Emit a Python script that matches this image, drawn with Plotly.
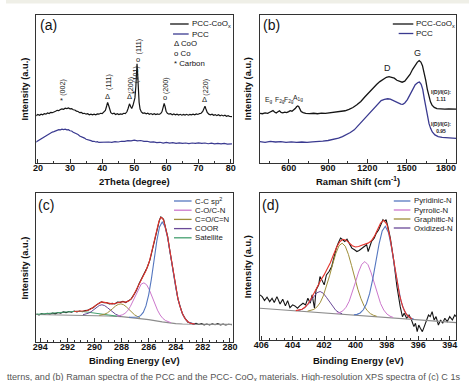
import plotly.graph_objects as go

W, H = 474, 381
def PX(x): return x / W
def PY(y): return 1 - y / H

# ---------------- DATA ----------------
# (a) XRD  (2theta in degree, intensity on a 0-100 frame scale)
XRD_PCC_COOX = [(18.4,31.8),(19.0,32.6),(19.5,32.0),(20.0,32.8),(20.5,32.3),(21.0,33.0),(21.5,32.6),(22.0,33.4),(22.5,33.0),(23.0,33.8),(23.5,33.4),(24.0,34.2),(24.5,34.0),(25.0,34.8),(25.5,35.0),(26.0,35.6),(26.5,35.4),(27.0,36.2),(27.5,36.6),(28.0,36.3),(28.5,37.0),(29.0,36.8),(29.5,37.2),(30.0,36.6),(30.5,36.8),(31.0,36.0),(31.5,35.8),(32.0,35.0),(32.5,34.8),(33.0,34.0),(33.5,34.2),(34.0,33.4),(34.5,33.6),(35.0,33.0),(35.5,33.3),(36.0,32.6),(36.5,33.0),(37.0,32.5),(37.5,33.0),(38.0,32.6),(38.5,33.2),(39.0,33.0),(39.5,33.6),(40.0,33.4),(40.5,34.2),(41.0,35.6),(41.4,38.5),(41.7,41.0),(42.0,39.0),(42.3,36.0),(42.7,34.0),(43.2,33.2),(43.7,33.6),(44.2,32.8),(44.7,33.3),(45.2,32.7),(45.7,33.2),(46.2,32.9),(46.7,33.6),(47.2,33.4),(47.7,34.6),(48.1,37.0),(48.5,40.0),(48.9,38.0),(49.2,36.8),(49.6,39.0),(49.9,41.0),(50.2,44.0),(50.5,52.0),(50.7,62.0),(50.85,67.0),(51.0,62.0),(51.2,50.0),(51.5,41.0),(51.8,36.5),(52.2,34.5),(52.7,33.6),(53.2,33.9),(53.7,33.2),(54.2,33.6),(54.7,32.9),(55.2,33.4),(55.7,32.8),(56.2,33.3),(56.7,32.7),(57.2,33.2),(57.7,32.8),(58.2,33.4),(58.6,34.6),(59.0,37.5),(59.3,40.2),(59.6,38.0),(59.9,35.0),(60.3,33.6),(60.8,33.0),(61.3,33.4),(61.8,32.6),(62.3,33.1),(62.8,32.5),(63.3,33.0),(63.8,32.4),(64.3,32.9),(64.8,32.3),(65.3,32.8),(65.8,32.4),(66.3,32.9),(66.8,32.3),(67.3,32.8),(67.8,32.5),(68.3,33.0),(68.8,32.6),(69.3,33.2),(69.8,32.8),(70.3,33.4),(70.8,33.6),(71.3,34.8),(71.7,36.8),(72.0,38.4),(72.3,36.5),(72.7,34.2),(73.2,33.0),(73.7,32.6),(74.2,33.0),(74.7,32.2),(75.2,32.7),(75.7,32.0),(76.2,32.6),(76.7,31.9),(77.2,32.4),(77.7,31.8),(78.2,32.3),(78.7,31.6),(79.2,32.0),(79.7,31.4),(80.4,31.3)]
XRD_PCC = [(18.4,12.8),(19.0,13.6),(19.5,14.2),(20.0,14.8),(20.5,15.6),(21.0,16.0),(21.5,17.0),(22.0,17.6),(22.5,18.6),(23.0,19.0),(23.5,19.8),(24.0,20.2),(24.5,20.9),(25.0,21.2),(25.5,21.8),(26.0,21.9),(26.5,22.5),(27.0,22.4),(27.5,22.9),(28.0,22.6),(28.5,22.9),(29.0,22.4),(29.5,22.5),(30.0,21.8),(30.5,21.6),(31.0,20.8),(31.5,20.4),(32.0,19.6),(32.5,19.2),(33.0,18.3),(33.5,17.9),(34.0,17.1),(34.5,16.8),(35.0,16.0),(35.5,15.8),(36.0,15.2),(36.5,15.1),(37.0,14.6),(37.5,14.7),(38.0,14.2),(38.5,14.4),(39.0,13.9),(40.0,14.1),(41.0,13.8),(42.0,14.2),(43.0,13.9),(44.0,14.4),(45.0,14.2),(46.0,14.7),(47.0,14.6),(48.0,15.1),(49.0,14.9),(50.0,15.4),(51.0,15.0),(52.0,15.2),(53.0,14.6),(54.0,14.7),(55.0,14.1),(56.0,14.3),(57.0,13.8),(58.0,14.0),(59.0,13.5),(60.0,13.9),(61.0,13.4),(62.0,13.7),(63.0,13.3),(64.0,13.6),(65.0,13.2),(66.0,13.5),(67.0,13.1),(68.0,13.5),(69.0,13.2),(70.0,13.6),(71.0,13.2),(72.0,13.5),(73.0,13.0),(74.0,13.4),(75.0,12.9),(76.0,13.3),(77.0,12.9),(78.0,13.2),(79.0,12.8),(80.4,12.9)]
XRD_TICKS = [20, 30, 40, 50, 60, 70, 80]
# peak marks: (2theta, symbol y, symbol, hkl, hkl y)
XRD_PEAKS = [(27.3, 42.4, "*", "(002)", 51.0), (41.7, 44.6, "Δ", "(111)", 54.5),
             (48.5, 44.6, "Δ", "(200)", 52.5), (49.85, 47.0, "*", "(101)", 60.0),
             (51.05, 70.0, "o", "(111)", 78.5), (59.5, 44.4, "o", "(200)", 52.5),
             (72.0, 42.6, "Δ", "(220)", 51.5)]
XRD_SERIES = ["PCC-CoO<sub>x</sub>", "PCC"]
XRD_KEYS = ["Δ CoO", "o Co", "* Carbon"]

# (b) Raman (Raman shift in cm-1, intensity 0-100 frame scale)
RAMAN_PCC_COOX = [(381,33.6),(400,33.3),(420,33.9),(440,33.6),(455,34.3),(470,35.0),(480,35.4),(492,34.4),(505,33.8),(518,34.6),(530,35.2),(542,34.2),(555,33.9),(570,34.3),(585,34.0),(600,34.7),(612,35.4),(625,35.0),(638,35.8),(650,36.8),(660,38.0),(668,38.5),(676,38.2),(685,36.6),(695,34.8),(710,34.0),(730,33.5),(760,33.3),(790,33.6),(820,33.3),(850,33.7),(880,33.5),(910,33.9),(940,34.0),(970,34.2),(1000,34.6),(1030,35.3),(1060,36.3),(1090,37.5),(1120,39.3),(1150,41.6),(1180,44.6),(1210,47.6),(1240,50.2),(1270,53.0),(1295,55.0),(1320,56.6),(1345,57.9),(1365,58.4),(1385,58.1),(1405,57.3),(1425,55.9),(1445,55.0),(1465,54.6),(1485,55.3),(1505,57.2),(1525,59.8),(1545,63.3),(1565,66.3),(1580,68.0),(1595,69.2),(1608,68.2),(1620,65.8),(1632,61.5),(1645,55.8),(1657,49.8),(1669,44.6),(1681,41.3),(1693,39.1),(1710,37.6),(1730,36.8),(1760,36.5),(1790,36.4),(1820,36.5),(1850,36.3),(1878,36.4)]
RAMAN_PCC = [(381,14.5),(420,14.0),(460,14.6),(500,14.2),(540,14.5),(580,14.0),(620,14.3),(660,13.9),(700,14.2),(740,13.9),(780,14.3),(820,14.4),(860,14.8),(900,15.2),(940,15.9),(980,16.8),(1010,17.8),(1040,19.0),(1070,20.6),(1100,22.4),(1130,25.3),(1160,28.2),(1190,31.4),(1220,34.6),(1250,37.6),(1280,40.5),(1305,42.2),(1330,43.0),(1355,43.4),(1375,43.2),(1395,42.4),(1415,41.5),(1435,40.4),(1455,39.8),(1470,39.6),(1485,40.6),(1505,42.8),(1525,46.5),(1545,50.3),(1565,52.9),(1585,54.4),(1597,54.7),(1610,53.2),(1622,49.8),(1634,43.5),(1646,37.5),(1658,31.5),(1670,26.6),(1682,23.4),(1695,21.0),(1715,19.0),(1740,17.9),(1770,17.3),(1800,17.0),(1840,16.8),(1878,16.6)]
RAMAN_TICKS = [600, 900, 1200, 1500, 1800]
RAMAN_BANDS = [(452, 42.4, "E<sub>g</sub>"), (530, 42.4, "F<sub>2g</sub>"), (606, 42.8, "F<sub>2g</sub>"),
               (670, 44.2, "A<sub>1g</sub>"), (1355, 64.0, "D"), (1580, 74.0, "G")]
RAMAN_RATIOS = [(1765, 45.5, "I(D)/I(G):", "1.11"), (1765, 24.0, "I(D)/I(G):", "0.95")]

# (c) XPS C 1s (binding energy eV, intensity 0-100 frame scale)
C1S_RAW = [(294.3,18.8),(294.1,18.2),(293.9,19.0),(293.7,18.5),(293.5,19.2),(293.3,18.7),(293.1,19.4),(292.9,18.9),(292.7,19.8),(292.5,19.3),(292.3,20.2),(292.1,19.7),(291.9,20.5),(291.7,20.0),(291.5,20.8),(291.3,20.2),(291.1,20.8),(290.9,20.3),(290.7,21.1),(290.5,21.2),(290.3,22.3),(290.1,23.0),(289.9,24.6),(289.7,25.6),(289.5,27.0),(289.3,26.4),(289.1,26.4),(288.9,25.5),(288.7,25.9),(288.5,25.6),(288.3,26.8),(288.1,26.6),(287.9,27.3),(287.7,26.5),(287.5,27.8),(287.3,28.8),(287.1,31.6),(286.9,34.8),(286.7,39.2),(286.5,42.6),(286.3,46.0),(286.1,50.2),(285.9,55.3),(285.7,63.6),(285.5,71.4),(285.35,77.0),(285.2,82.0),(285.1,83.9),(285.0,83.0),(284.9,82.3),(284.75,76.6),(284.6,70.9),(284.45,61.8),(284.3,53.9),(284.15,44.1),(284.0,36.9),(283.85,29.3),(283.7,24.6),(283.5,18.7),(283.3,15.8),(283.1,13.3),(282.9,12.8),(282.7,12.0),(282.5,12.5),(282.3,11.8),(282.1,12.3),(281.9,11.5),(281.7,12.1),(281.5,11.4),(281.3,12.2),(281.1,11.6),(280.9,12.3),(280.7,11.5),(280.5,12.0),(280.3,11.4),(280.1,11.9),(279.85,11.6)]
C1S_FIT = [(291.5,20.5),(291.0,20.55),(290.6,21.0),(290.3,22.0),(290.0,24.0),(289.7,25.9),(289.45,26.9),(289.2,26.5),(288.95,25.9),(288.7,25.6),(288.45,26.0),(288.2,26.65),(287.95,27.0),(287.7,26.8),(287.45,27.6),(287.2,29.85),(286.95,34.0),(286.7,38.85),(286.45,43.45),(286.2,47.8),(285.95,54.0),(285.7,63.3),(285.45,74.0),(285.25,80.7),(285.1,83.65),(285.0,83.3),(284.9,81.8),(284.75,77.0),(284.6,70.5),(284.45,62.3),(284.3,53.5),(284.15,44.5),(284.0,36.5),(283.85,29.7),(283.7,24.2),(283.5,19.0),(283.3,15.5),(283.1,13.6),(282.9,12.6),(282.6,12.0)]
C1S_BG = [(294.3,18.5),(293.0,18.35),(292.0,18.2),(291.0,18.0),(290.0,17.8),(289.0,17.5),(288.0,17.0),(287.0,16.2),(286.0,15.0),(285.0,13.5),(284.5,12.8),(284.0,12.3),(283.5,12.05),(283.0,11.9),(281.0,11.8),(279.85,11.8)]
C1S_CC = [(287.45,16.6),(287.0,16.5),(286.8,16.8),(286.6,17.7),(286.4,19.9),(286.2,24.2),(286.0,31.7),(285.8,42.2),(285.6,55.1),(285.4,67.7),(285.2,77.2),(285.0,80.5),(284.8,77.6),(284.6,69.9),(284.4,59.2),(284.2,47.4),(284.0,36.5),(283.8,27.6),(283.6,21.2),(283.4,16.9),(283.2,14.4),(283.0,13.0),(282.6,12.0)]
C1S_CO = [(288.35,17.3),(288.15,17.6),(287.95,18.2),(287.75,19.2),(287.55,21.0),(287.35,23.9),(287.15,27.7),(286.95,32.0),(286.75,36.0),(286.55,38.9),(286.35,39.7),(286.15,38.4),(285.95,35.0),(285.75,30.5),(285.55,25.7),(285.35,21.4),(285.15,18.1),(284.95,15.8),(284.75,14.4),(284.55,13.45),(284.35,12.9)]
C1S_CDO = [(289.65,17.9),(289.45,18.2),(289.25,18.7),(289.05,19.5),(288.85,20.8),(288.65,22.5),(288.45,24.1),(288.25,25.2),(288.05,25.6),(287.85,25.0),(287.65,23.6),(287.45,21.8),(287.25,19.9),(287.05,18.3),(286.85,17.2),(286.65,16.4)]
C1S_COOR = [(290.85,18.3),(290.65,18.6),(290.45,19.3),(290.25,20.3),(290.05,21.8),(289.85,23.3),(289.65,24.5),(289.45,25.0),(289.25,24.4),(289.05,23.1),(288.85,21.5),(288.65,19.9),(288.45,18.7),(288.25,17.9),(288.05,17.4)]
C1S_SAT = [(294.3,18.6),(293.8,18.8),(293.3,19.1),(292.8,19.6),(292.3,20.0),(291.8,20.4),(291.3,20.6),(290.8,20.4),(290.3,19.8),(289.8,19.3),(289.3,18.7),(288.8,17.9),(288.3,17.3)]
C1S_NAMES = ["C-C sp<sup>2</sup>", "C-O/C-N", "C=O/C=N", "COOR", "Satellite"]
C1S_TICKS = [294, 292, 290, 288, 286, 284, 282, 280]

# (d) XPS N 1s
N1S_RAW = [(406.08,30.7),(405.94,29.5),(405.79,26.8),(405.63,29.1),(405.46,26.1),(405.31,28.4),(405.17,25.5),(405.0,29.5),(404.8,24.5),(404.63,27.7),(404.46,23.2),(404.32,26.8),(404.17,22.0),(404.0,23.9),(403.86,23.2),(403.69,21.6),(403.55,23.2),(403.34,25.0),(403.18,23.9),(403.03,28.4),(402.88,25.0),(402.76,30.7),(402.61,21.6),(402.51,34.1),(402.34,37.5),(402.26,43.2),(402.14,40.9),(401.99,37.5),(401.85,44.3),(401.68,46.6),(401.51,50.0),(401.37,56.8),(401.22,62.5),(401.10,65.9),(400.95,69.3),(400.81,68.2),(400.68,67.0),(400.54,68.6),(400.39,65.9),(400.23,62.5),(400.06,61.4),(399.91,60.2),(399.77,60.9),(399.60,62.5),(399.44,63.6),(399.29,64.8),(399.19,60.2),(399.08,64.8),(398.98,67.0),(398.81,69.3),(398.67,72.7),(398.52,75.0),(398.36,78.4),(398.25,81.8),(398.15,80.7),(398.05,81.8),(397.94,77.3),(397.78,69.3),(397.57,54.5),(397.36,36.4),(397.15,22.7),(397.01,15.9),(396.90,18.2),(396.74,14.8),(396.59,17.0),(396.45,14.1),(396.28,9.1),(396.18,11.4),(396.07,5.7),(395.97,10.2),(395.87,8.0),(395.74,5.7),(395.62,9.1),(395.49,13.6),(395.35,17.0),(395.24,15.9),(395.12,19.3),(394.99,13.6),(394.87,15.9),(394.72,10.2),(394.58,13.6),(394.45,11.4),(394.31,14.8),(394.16,12.5),(394.0,15.9),(393.83,13.6),(393.68,17.0),(393.58,15.9)]
N1S_FIT = [(403.8,20.0),(403.6,20.25),(403.4,20.95),(403.2,22.43),(403.0,24.98),(402.8,28.54),(402.6,32.77),(402.4,37.0),(402.2,40.84),(402.0,44.3),(401.8,48.05),(401.6,52.6),(401.4,57.97),(401.2,63.1),(401.0,66.87),(400.8,68.5),(400.6,67.9),(400.4,65.95),(400.2,64.1),(400.0,63.3),(399.8,63.6),(399.6,64.5),(399.4,65.3),(399.2,65.9),(399.0,67.35),(398.8,70.5),(398.6,75.0),(398.4,79.5),(398.2,81.5),(398.0,78.7),(397.8,69.56),(397.6,56.35),(397.4,42.54),(397.2,30.84),(397.0,22.88),(396.8,18.13),(396.6,15.67),(396.4,14.5)]
N1S_BG = [(406.08,21.6),(393.58,11.8)]
N1S_PYRIDINIC = [(400.1,17.15),(399.9,17.45),(399.7,18.4),(399.5,20.55),(399.3,24.7),(399.1,31.5),(398.9,41.45),(398.7,53.4),(398.5,65.25),(398.3,74.1),(398.1,77.35),(397.9,73.2),(397.7,62.65),(397.5,49.1),(397.3,36.2),(397.1,26.35),(396.9,20.2),(396.7,16.65),(396.5,15.0),(396.3,14.2)]
N1S_PYRROLIC = [(401.2,18.1),(401.0,18.7),(400.8,19.85),(400.6,22.3),(400.4,26.35),(400.2,32.2),(400.0,39.3),(399.8,46.25),(399.6,51.5),(399.4,53.35),(399.2,51.2),(399.0,45.65),(398.8,38.4),(398.6,30.9),(398.4,24.75),(398.2,20.4),(398.0,17.7),(397.8,16.2),(397.6,15.35)]
N1S_GRAPHITIC = [(403.05,19.6),(402.85,19.95),(402.65,20.8),(402.45,22.5),(402.25,25.35),(402.05,30.0),(401.85,36.15),(401.65,43.6),(401.45,51.6),(401.25,58.85),(401.05,64.1),(400.85,65.85),(400.65,63.8),(400.45,58.25),(400.25,50.65),(400.05,42.3),(399.85,34.55),(399.65,28.1),(399.45,23.15),(399.25,20.0),(399.05,17.95),(398.85,16.8),(398.65,16.15)]
N1S_OXIDIZED = [(403.65,20.1),(403.45,20.65),(403.25,21.8),(403.05,23.8),(402.85,26.75),(402.65,29.7),(402.45,32.15),(402.25,33.0),(402.05,31.8),(401.85,29.05),(401.65,25.8),(401.45,22.5),(401.25,20.15),(401.05,18.7),(400.85,17.85)]
N1S_NAMES = ["Pyridinic-N", "Pyrrolic-N", "Graphitic-N", "Oxidized-N"]
N1S_TICKS = [406, 404, 402, 400, 398, 396, 394]

CAPTION = ("tterns, and (b) Raman spectra of the PCC and the PCC- CoO<sub>x</sub> materials. "
           "High-resolution XPS spectra of (c) C 1s")

# ---------------- STYLE ----------------
FONT = "Liberation Sans, Arial, sans-serif"
BLACK = "#151515"
PCC_BLUE = "#3a3a90"
C_BLUE, C_PINK, C_OLIVE, C_PURPLE, C_GREEN = "#5577c0", "#cc77cc", "#9f8f3a", "#6a4a98", "#45a070"
C_RED, C_GRAY = "#e3342c", "#8c8c8c"

fig = go.Figure()

def add(pairs, ax, color, width=1.1):
    xs = [p[0] for p in pairs]
    ys = [p[1] for p in pairs]
    fig.add_trace(go.Scatter(x=xs, y=ys, mode="lines", xaxis=ax[0], yaxis=ax[1],
                             line=dict(color=color, width=width), showlegend=False,
                             hoverinfo="skip"))

A, B, C, D = ("x", "y"), ("x2", "y2"), ("x3", "y3"), ("x4", "y4")
add(XRD_PCC_COOX, A, BLACK, 1.2)
add(XRD_PCC, A, PCC_BLUE, 1.2)
add(RAMAN_PCC_COOX, B, BLACK, 1.3)
add(RAMAN_PCC, B, PCC_BLUE, 1.3)
add(C1S_RAW, C, BLACK, 1.1)
add(C1S_BG, C, C_GRAY, 1.1)
add(C1S_SAT, C, C_GREEN, 1.0)
add(C1S_COOR, C, C_PURPLE, 1.0)
add(C1S_CDO, C, C_OLIVE, 1.0)
add(C1S_CO, C, C_PINK, 1.0)
add(C1S_CC, C, C_BLUE, 1.1)
add(C1S_FIT, C, C_RED, 1.1)
add(N1S_RAW, D, BLACK, 1.1)
add(N1S_BG, D, C_GRAY, 1.1)
add(N1S_OXIDIZED, D, C_PURPLE, 1.0)
add(N1S_GRAPHITIC, D, C_OLIVE, 1.0)
add(N1S_PYRROLIC, D, C_PINK, 1.0)
add(N1S_PYRIDINIC, D, C_BLUE, 1.1)
add(N1S_FIT, D, C_RED, 1.1)

# axes
XL, XR, XL2, XR2 = 31, 232, 260, 461
TOP1, BOT1, TOP2, BOT2 = 15, 163, 193, 342

def xax(dom, rng, ticks, minor, anchor):
    return dict(domain=[PX(dom[0]), PX(dom[1])], range=rng, anchor=anchor,
                tickmode="array", tickvals=ticks, ticktext=[str(t) for t in ticks],
                showline=True, linecolor="#333", linewidth=1, mirror=True,
                ticks="inside", ticklen=4, tickwidth=1, tickcolor="#333",
                minor=dict(dtick=minor, ticks="inside", ticklen=2, tickcolor="#333"),
                showgrid=False, zeroline=False, ticklabelstandoff=-4,
                tickfont=dict(family=FONT, size=9, color="#111", weight="bold"))

def yax(dom, anchor):
    return dict(domain=[PY(dom[1]), PY(dom[0])], range=[0, 100], anchor=anchor,
                showline=True, linecolor="#333", linewidth=1, mirror=True,
                ticks="", showticklabels=False, showgrid=False, zeroline=False)

layout = dict(
    width=W, height=H, margin=dict(l=0, r=0, t=0, b=0),
    paper_bgcolor="white", plot_bgcolor="white", showlegend=False,
    xaxis=xax((XL, XR), [19.5, 80.6], XRD_TICKS, 5, "y"),
    yaxis=yax((TOP1, BOT1), "x"),
    xaxis2=xax((XL2, XR2), [381, 1878], RAMAN_TICKS, 150, "y2"),
    yaxis2=yax((TOP1, BOT1), "x2"),
    xaxis3=xax((XL, XR), [294.3, 279.8], C1S_TICKS, 0.5, "y3"),
    yaxis3=yax((TOP2, BOT2), "x3"),
    xaxis4=xax((XL2, XR2), [406.08, 393.58], N1S_TICKS, 0.5, "y4"),
    yaxis4=yax((TOP2, BOT2 - 2), "x4"),
)
fig.update_layout(**layout)

ann = []
shapes = []
def text(x, y, t, size=10, bold=False, angle=0, xanchor="center", color="#111", xref="paper", yref="paper"):
    if xref == "paper":
        x = PX(x)
    if yref == "paper":
        y = PY(y)
    ann.append(dict(x=x, y=y, xref=xref, yref=yref, text=("<b>%s</b>" % t) if bold else t,
                    showarrow=False, textangle=angle, xanchor=xanchor, yanchor="middle",
                    font=dict(family=FONT, size=size, color=color)))

def seg(x0, x1, y, color):
    shapes.append(dict(type="line", xref="paper", yref="paper", x0=PX(x0), x1=PX(x1),
                       y0=PY(y), y1=PY(y), line=dict(color=color, width=1.3)))

# top page strip
shapes.append(dict(type="rect", xref="paper", yref="paper", x0=0, x1=1, y0=PY(3.5), y1=1,
                   fillcolor="#efefe7", line=dict(width=0)))

# axis titles
for cx, cy, t in [(131.5, 181, "2Theta (degree)"), (360.5, 181, "Raman Shift (cm<sup>-1</sup>)"),
                  (131.5, 360, "Binding Energy (eV)"), (360.5, 360, "Binding Energy (eV)")]:
    text(cx, cy, t, size=9.5, bold=True)
for cx, cy in [(19, 89), (248, 89), (19, 268), (248, 267)]:
    text(cx, cy, "Intensity (a.u.)", size=9.3, bold=True, angle=-90)

# panel letters
for cx, cy, t in [(43, 25, "(a)"), (272, 25, "(b)"), (41, 205, "(c)"), (271, 205, "(d)")]:
    text(cx, cy, t, size=14)

# (a) peaks
for x, ys, sym, hkl, yl in XRD_PEAKS:
    text(x, ys, sym, size=7.5, xref="x", yref="y", color="#222")
    text(x + 0.3, yl, hkl, size=7.2, angle=-90, xref="x", yref="y", color="#222")

# (a) legend
seg(168, 187, 24, BLACK); text(188, 24, XRD_SERIES[0], size=8, xanchor="left")
seg(171, 187, 34, PCC_BLUE); text(188, 34, XRD_SERIES[1], size=8, xanchor="left")
for i, k in enumerate(XRD_KEYS):
    text(170, 43.5 + 10 * i, k, size=7.8, xanchor="left")

# (b) legend + labels
seg(396, 417, 24, BLACK); text(418, 24, XRD_SERIES[0], size=8, xanchor="left")
seg(402, 417, 33.5, PCC_BLUE); text(418, 33.5, XRD_SERIES[1], size=8, xanchor="left")
for x, y, t in RAMAN_BANDS:
    text(x, y, t, size=6.8 if len(t) > 1 else 9, xref="x2", yref="y2", color="#222")
for x, y, t1, t2 in RAMAN_RATIOS:
    text(x, y, "%s<br>%s" % (t1, t2), size=5, bold=True, xref="x2", yref="y2", color="#222")

# (c) legend
for i, (nm, col) in enumerate(zip(C1S_NAMES, [C_BLUE, C_PINK, C_OLIVE, C_PURPLE, C_GREEN])):
    yy = 201 + 9.2 * i
    seg(172, 190, yy, col); text(191.5, yy, nm, size=7.8, xanchor="left", color="#222")

# (d) legend
for i, (nm, col) in enumerate(zip(N1S_NAMES, [C_BLUE, C_PINK, C_OLIVE, C_PURPLE])):
    yy = 201 + 9.0 * i
    seg(397, 414, yy, col); text(415.5, yy, nm, size=7.8, xanchor="left", color="#222")

# caption fragment
text(-1, 377, CAPTION, size=9.1, xanchor="left", color="#555")

fig.update_layout(annotations=ann, shapes=shapes)
fig.write_html("out.html", config={"displayModeBar": False},
               post_script="document.body.style.margin='0';document.body.style.overflow='hidden';")
